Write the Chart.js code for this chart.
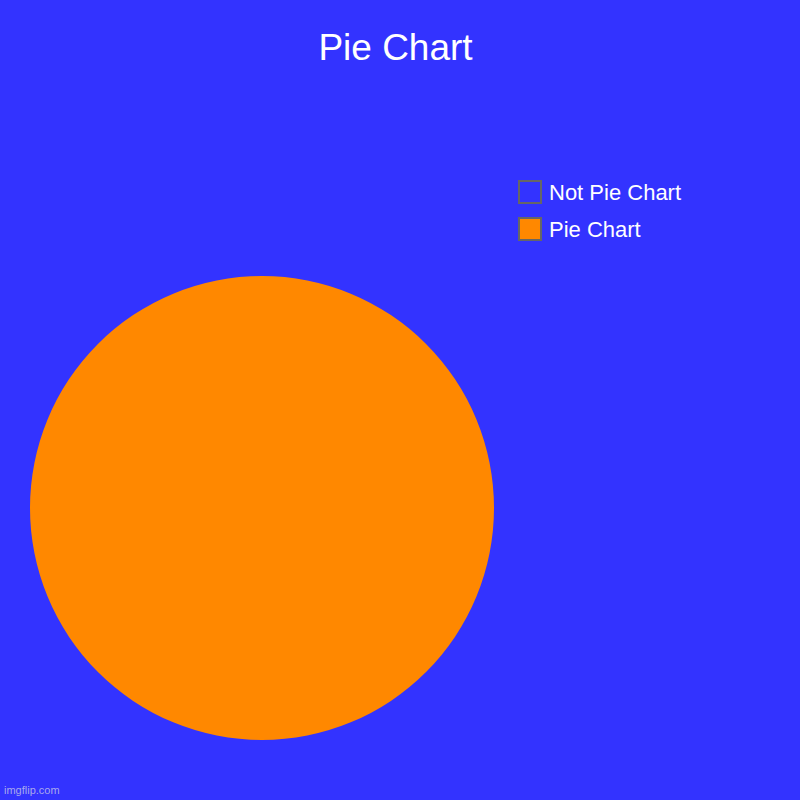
<!DOCTYPE html>
<html>
<head>
<meta charset="utf-8">
<script src="https://cdn.jsdelivr.net/npm/chart.js@4"></script>
<style>
    html, body {
        margin: 0;
        padding: 0;
    }
    body {
        width: 800px;
        height: 800px;
        background: #3333ff;
        position: relative;
        overflow: hidden;
        font-family: "Liberation Sans", Arial, sans-serif;
    }
    #title {
        position: absolute;
        left: 0;
        top: 29px;
        width: 791px;
        text-align: center;
        color: #ffffff;
        font-size: 37px;
        line-height: 37px;
    }
    #pie-wrap {
        position: absolute;
        left: 30px;
        top: 276px;
        width: 464px;
        height: 464px;
    }
    #legend {
        position: absolute;
        left: 518px;
        top: 180px;
        margin: 0;
        padding: 0;
        list-style: none;
    }
    #legend li {
        display: flex;
        align-items: center;
        height: 24px;
        margin-bottom: 13px;
        color: #ffffff;
        font-size: 22px;
        line-height: 24px;
        white-space: nowrap;
    }
    #legend .box {
        box-sizing: border-box;
        width: 24px;
        height: 24px;
        border: 2px solid #666666;
        margin-right: 7px;
    }
    #legend .label {
        position: relative;
        top: 1px;
    }
    #watermark {
        position: absolute;
        left: 4px;
        top: 784px;
        font-size: 11px;
        line-height: 13px;
        color: rgba(210, 210, 230, 0.75);
    }
</style>
</head>
<body>
<div id="title">Pie Chart</div>
<div id="pie-wrap"><canvas id="canvas" width="464" height="464"></canvas></div>
<ul id="legend"></ul>
<div id="watermark">imgflip.com</div>
<script>
    const labels = ['Not Pie Chart', 'Pie Chart'];
    const values = [0, 100];
    const sliceColors = ['#3333ff', '#ff8800'];

    // legend built from the chart's own label generator
    const htmlLegend = {
        id: 'htmlLegend',
        afterUpdate(chart) {
            const ul = document.getElementById('legend');
            ul.innerHTML = '';
            const items = chart.options.plugins.legend.labels.generateLabels(chart);
            items.forEach((item) => {
                const li = document.createElement('li');
                const box = document.createElement('span');
                box.className = 'box';
                box.style.background = item.fillStyle;
                const text = document.createElement('span');
                text.className = 'label';
                text.textContent = item.text;
                li.appendChild(box);
                li.appendChild(text);
                ul.appendChild(li);
            });
        },
    };

    const ctx = document.getElementById('canvas');
    new Chart(ctx, {
        type: 'pie',
        data: {
            labels: labels,
            datasets: [
                {
                    data: values,
                    backgroundColor: sliceColors,
                    borderWidth: 0,
                },
            ],
        },
        options: {
            responsive: false,
            animation: false,
            layout: { padding: 0 },
            plugins: {
                legend: { display: false },
                title: { display: false },
                tooltip: { enabled: false },
            },
        },
        plugins: [htmlLegend],
    });
</script>
</body>
</html>
